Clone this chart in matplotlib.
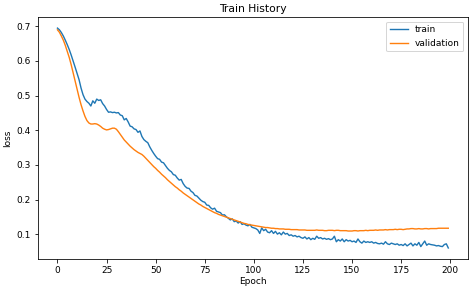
import matplotlib
matplotlib.use("Agg")
import matplotlib.pyplot as plt

train = [
    0.695, 0.690, 0.682, 0.672, 0.660, 0.647, 0.633, 0.617, 0.600, 0.582,
    0.564, 0.546, 0.522, 0.503, 0.490, 0.483, 0.478, 0.470, 0.485, 0.478,
    0.490, 0.486, 0.488, 0.477, 0.470, 0.460, 0.452, 0.453, 0.451, 0.452,
    0.450, 0.451, 0.444, 0.442, 0.430, 0.434, 0.424, 0.412, 0.410, 0.404,
    0.402, 0.394, 0.398, 0.382, 0.373, 0.368, 0.364, 0.352, 0.342, 0.333,
    0.325, 0.318, 0.316, 0.308, 0.306, 0.298, 0.290, 0.284, 0.280, 0.272,
    0.270, 0.262, 0.256, 0.258, 0.246, 0.238, 0.233, 0.232, 0.224, 0.220,
    0.212, 0.210, 0.204, 0.198, 0.194, 0.192, 0.184, 0.183, 0.176, 0.172,
    0.175, 0.166, 0.164, 0.162, 0.155, 0.156, 0.150, 0.146, 0.141, 0.144,
    0.136, 0.138, 0.132, 0.136, 0.128, 0.130, 0.126, 0.124, 0.128, 0.120,
    0.118, 0.116, 0.112, 0.102, 0.118, 0.110, 0.114, 0.106, 0.104, 0.110,
    0.102, 0.108, 0.100, 0.104, 0.098, 0.106, 0.100, 0.102, 0.096, 0.098,
    0.094, 0.096, 0.092, 0.094, 0.090, 0.088, 0.092, 0.086, 0.090, 0.084,
    0.088, 0.085, 0.094, 0.088, 0.090, 0.086, 0.088, 0.085, 0.087, 0.084,
    0.086, 0.094, 0.078, 0.084, 0.080, 0.086, 0.078, 0.084, 0.080, 0.082,
    0.078, 0.080, 0.076, 0.086, 0.078, 0.074, 0.080, 0.076, 0.078, 0.076,
    0.078, 0.074, 0.076, 0.073, 0.072, 0.074, 0.071, 0.078, 0.072, 0.070,
    0.074, 0.072, 0.070, 0.072, 0.068, 0.070, 0.067, 0.072, 0.066, 0.070,
    0.074, 0.066, 0.072, 0.068, 0.076, 0.064, 0.072, 0.080, 0.068, 0.072,
    0.070, 0.069, 0.068, 0.066, 0.067, 0.065, 0.064, 0.070, 0.072, 0.060,
]

validation = [
    0.690, 0.683, 0.672, 0.660, 0.645, 0.628, 0.610, 0.589, 0.566, 0.542,
    0.518, 0.495, 0.474, 0.456, 0.440, 0.428, 0.421, 0.418, 0.418, 0.419,
    0.418, 0.415, 0.411, 0.406, 0.403, 0.401, 0.402, 0.404, 0.406, 0.406,
    0.403, 0.396, 0.388, 0.380, 0.372, 0.366, 0.360, 0.354, 0.349, 0.344,
    0.340, 0.336, 0.333, 0.330, 0.325, 0.319, 0.313, 0.307, 0.301, 0.295,
    0.290, 0.284, 0.279, 0.273, 0.268, 0.263, 0.257, 0.252, 0.247, 0.242,
    0.237, 0.233, 0.228, 0.224, 0.219, 0.215, 0.211, 0.207, 0.203, 0.199,
    0.195, 0.191, 0.187, 0.184, 0.180, 0.177, 0.174, 0.171, 0.168, 0.165,
    0.162, 0.160, 0.157, 0.155, 0.153, 0.151, 0.149, 0.147, 0.145, 0.143,
    0.141, 0.139, 0.137, 0.135, 0.133, 0.131, 0.130, 0.128, 0.127, 0.126,
    0.125, 0.124, 0.123, 0.122, 0.121, 0.120, 0.119, 0.119, 0.118, 0.117,
    0.117, 0.116, 0.116, 0.115, 0.115, 0.115, 0.114, 0.114, 0.114, 0.113,
    0.113, 0.113, 0.113, 0.112, 0.112, 0.112, 0.112, 0.111, 0.111, 0.111,
    0.111, 0.111, 0.112, 0.111, 0.111, 0.111, 0.110, 0.110, 0.111, 0.111,
    0.111, 0.110, 0.111, 0.111, 0.110, 0.110, 0.110, 0.110, 0.109, 0.109,
    0.109, 0.110, 0.110, 0.109, 0.110, 0.110, 0.110, 0.111, 0.110, 0.111,
    0.111, 0.111, 0.112, 0.111, 0.112, 0.112, 0.112, 0.113, 0.112, 0.113,
    0.113, 0.113, 0.114, 0.113, 0.114, 0.114, 0.113, 0.114, 0.115, 0.115,
    0.116, 0.116, 0.115, 0.115, 0.116, 0.115, 0.115, 0.116, 0.116, 0.115,
    0.116, 0.116, 0.116, 0.116, 0.117, 0.117, 0.117, 0.117, 0.117, 0.117,
]

epochs = list(range(len(train)))

plt.rcParams['font.family'] = ['DejaVu Sans']
plt.rcParams['font.size'] = 9

fig = plt.figure(figsize=(474 / 72, 290 / 72), dpi=72)
ax = fig.add_axes([0.080, 0.107, 0.907, 0.834])
ax.plot(epochs, train, color='#1f77b4', linewidth=1.4, label='train')
ax.plot(epochs, validation, color='#ff7f0e', linewidth=1.4, label='validation')
ax.set_title('Train History', fontsize=10.8, pad=5)
ax.set_xlabel('Epoch', labelpad=2)
ax.set_ylabel('loss', labelpad=4)
ax.set_xticks([0, 25, 50, 75, 100, 125, 150, 175, 200])
ax.set_yticks([0.1, 0.2, 0.3, 0.4, 0.5, 0.6, 0.7])
ax.legend(loc='upper right', fontsize=9)
fig.savefig('out.png', dpi=72)
